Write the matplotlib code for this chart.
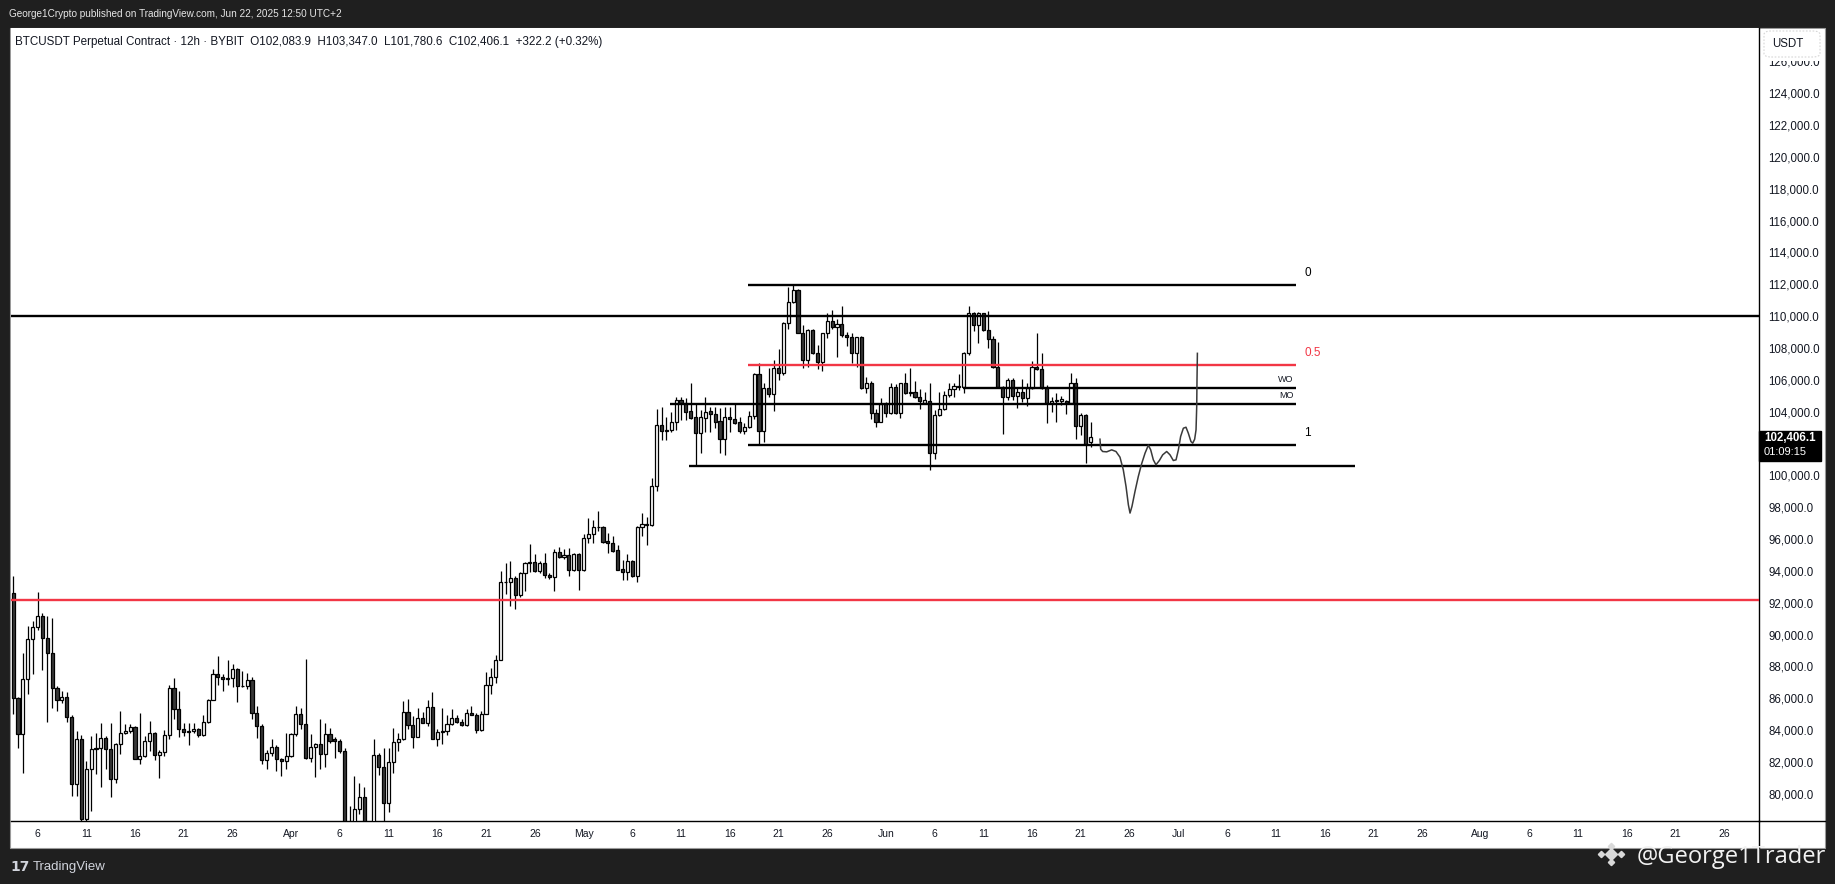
import matplotlib
matplotlib.use('Agg')
import matplotlib.pyplot as plt
import matplotlib.dates as mdates
from matplotlib.patches import Rectangle, FancyBboxPatch
from matplotlib.lines import Line2D
import numpy as np
import pandas as pd

# ---------------- DATA ----------------
first_candle = '2025-03-03 12:00'   # 12h candles
opens = [
    92610, 86030, 83770, 87180, 89690, 90480, 91150, 89790, 88850, 86660,
    85860, 86090, 84840, 80590, 83420, 78440, 81580, 82790, 82890, 83520,
    82830, 80950, 83100, 83830, 83960, 84210, 82200, 82370, 83310, 83830,
    82460, 82620, 83710, 86660, 85340, 84090, 83900, 83960, 84090, 83710,
    84500, 85880, 87530, 87350, 87220, 87280, 87810, 86760, 86780, 87120,
    85090, 84250, 82120, 82540, 82960, 82200, 82060, 82370, 83770, 85030,
    84400, 82270, 82960, 83100, 82520, 83770, 83410, 83330, 82700, 77800,
    77600, 79030, 79820, 76300, 76500, 82430, 81700, 79440, 82020, 83270,
    83420, 85150, 84340, 83580, 84770, 84460, 85460, 83460, 83900, 83920,
    84400, 84770, 84520, 84310, 85090, 84960, 83980, 85020, 86860, 87320,
    88430, 93280, 93300, 93550, 92470, 93870, 94490, 94530, 93970, 94490,
    93720, 93610, 95180, 94870, 95010, 94070, 95080, 94030, 96060, 96310,
    96740, 96770, 95850, 95750, 95300, 94140, 93910, 94640, 93660, 96730,
    96940, 96900, 99340, 103170, 102810, 102830, 103330, 104730, 104520, 104060,
    103690, 102640, 103580, 104040, 103860, 103420, 102270, 103690, 103540, 103330,
    102810, 103020, 103730, 106340, 102810, 105460, 105090, 106720, 106410, 109540,
    110860, 111630, 108960, 107240, 109120, 107660, 107140, 108910, 109690, 109290,
    109480, 108810, 108700, 107660, 108660, 105460, 105780, 103900, 103370, 104460,
    103940, 105530, 103900, 105780, 105150, 105260, 104940, 104570, 104690, 101390,
    103790, 104150, 105050, 105420, 105530, 105530, 107660, 110170, 109440, 110170,
    109120, 108540, 106780, 105530, 104900, 105990, 104980, 105260, 104840, 105460,
    106780, 106660, 105460, 104520, 104690, 104670, 104670, 104570, 105820, 103120,
    103790, 102084,
]
highs = [
    93660, 86100, 88850, 90560, 90880, 92700, 91360, 91190, 91040, 86760,
    86430, 86380, 84920, 83940, 83670, 82060, 83630, 83830, 84420, 83630,
    84460, 83210, 85210, 84360, 84360, 84250, 85050, 83630, 84570, 83880,
    82750, 83980, 86860, 87280, 86450, 84460, 84420, 84420, 84150, 84940,
    85970, 87850, 88680, 87550, 88430, 88180, 87890, 87700, 87600, 87350,
    85510, 84360, 82750, 83420, 83040, 82270, 83790, 83830, 85510, 85400,
    88470, 83770, 83210, 84670, 84460, 84150, 83580, 83460, 82890, 79240,
    81120, 80700, 80450, 77900, 83460, 82580, 82890, 82890, 84150, 83830,
    85820, 85970, 84880, 85400, 85130, 85920, 86380, 84040, 85400, 84920,
    85300, 84920, 84670, 85300, 85510, 85090, 85170, 87640, 87910, 88740,
    93970, 94490, 94640, 93660, 93910, 94530, 95680, 95080, 94600, 95120,
    93870, 95370, 95470, 95390, 95430, 95120, 95120, 96310, 97310, 97210,
    97770, 96790, 96370, 96160, 95640, 94700, 95060, 94700, 96790, 97630,
    97380, 99820, 104150, 104270, 103690, 104000, 104940, 104940, 104840, 105780,
    104480, 104110, 104940, 104320, 104320, 104210, 104320, 104320, 104460, 103690,
    103270, 104060, 106410, 107030, 105780, 106720, 107240, 107930, 109640, 111840,
    111940, 111730, 109440, 109160, 109160, 108180, 108960, 110210, 110380, 109790,
    110630, 109020, 108910, 108700, 108750, 106200, 105920, 104150, 104840, 104630,
    105780, 105740, 105820, 106410, 106720, 105920, 105420, 105260, 105780, 104110,
    105260, 105320, 105780, 105820, 106360, 107760, 110630, 110270, 110270, 110210,
    110310, 108750, 108390, 105610, 106090, 106090, 105570, 106030, 105780, 107200,
    108960, 107660, 105670, 104940, 105150, 104980, 104730, 106410, 106090, 103900,
    103830, 103347,
]
lows = [
    84980, 82890, 81330, 86280, 87530, 90300, 87800, 84500, 85400, 85190,
    85720, 84500, 79860, 79860, 76800, 77500, 78920, 81220, 80450, 81540,
    79800, 80700, 82480, 83730, 83830, 82160, 81850, 82300, 82680, 82120,
    81010, 82370, 83460, 84670, 83560, 83630, 83060, 83830, 83580, 83630,
    84460, 85880, 86860, 86450, 86860, 86720, 85760, 86720, 86550, 84710,
    83520, 81850, 81540, 82370, 81430, 81120, 81540, 82330, 83630, 84090,
    82160, 82020, 81070, 81580, 81680, 83210, 82270, 82580, 77300, 74600,
    77000, 78710, 76000, 74600, 76300, 81160, 78300, 78860, 81280, 82680,
    83400, 84040, 82890, 83560, 84440, 84250, 83440, 83000, 83100, 83670,
    84290, 84420, 84250, 84250, 84920, 83830, 83940, 85000, 86240, 86970,
    88390, 92550, 91820, 91610, 92340, 92720, 93910, 93910, 93870, 93550,
    93490, 92720, 94810, 94740, 93700, 94010, 92820, 94000, 95750, 95750,
    96520, 95750, 95120, 95160, 94030, 93400, 93450, 93610, 93280, 96160,
    95640, 96790, 98990, 102230, 102230, 102750, 102850, 103480, 103480, 103540,
    100660, 101390, 102690, 102750, 102960, 101430, 101280, 102750, 103230, 102640,
    102600, 102980, 103520, 101970, 102060, 104900, 104040, 105990, 106300, 109160,
    110790, 108910, 106720, 106820, 107620, 106660, 106570, 108600, 109160, 107410,
    108700, 108120, 107030, 106820, 105400, 105190, 103540, 103020, 103350, 103690,
    103860, 103860, 103580, 105110, 104980, 104840, 104150, 104520, 100340, 101010,
    103730, 104110, 104940, 104900, 105360, 105190, 107550, 109080, 108290, 109080,
    107970, 106720, 105500, 102580, 104730, 104730, 104210, 104630, 104360, 105400,
    106610, 105400, 103270, 104000, 103370, 104420, 103860, 104480, 102270, 102540,
    100760, 101781,
]
closes = [
    86030, 83770, 87180, 89690, 90480, 91150, 89790, 88850, 86660, 85860,
    86090, 84840, 80590, 83420, 78440, 81580, 82790, 82890, 83520, 82830,
    80950, 83100, 83830, 83960, 84210, 82200, 82370, 83310, 83830, 82460,
    82620, 83710, 86660, 85340, 84090, 83900, 83960, 84090, 83710, 84500,
    85880, 87530, 87350, 87220, 87280, 87810, 86760, 86780, 87120, 85090,
    84250, 82120, 82540, 82960, 82200, 82060, 82370, 83770, 85030, 84400,
    82270, 82960, 83100, 82520, 83770, 83310, 83330, 82700, 77800, 77600,
    79030, 79820, 76300, 76500, 82430, 81700, 79440, 82020, 83270, 83420,
    85150, 84340, 83580, 84770, 84460, 85460, 83460, 83900, 83920, 84400,
    84770, 84520, 84310, 85090, 84960, 83980, 85020, 86860, 87320, 88430,
    93280, 93300, 93550, 92470, 93870, 94490, 94530, 93970, 94490, 93720,
    93610, 95180, 94870, 95010, 94070, 95080, 94030, 96060, 96310, 96740,
    96770, 95790, 95750, 95220, 94070, 93910, 94640, 93660, 96730, 96940,
    96900, 99340, 103170, 102810, 102830, 103330, 104730, 104520, 104000, 103580,
    102640, 103630, 104000, 103860, 103370, 102270, 103690, 103540, 103310, 102810,
    103020, 103730, 106340, 102810, 105460, 105090, 106720, 106410, 109540, 110860,
    111630, 108960, 107240, 109120, 107660, 107140, 108910, 109690, 109290, 109480,
    108810, 108700, 107660, 108660, 105460, 105780, 103900, 103370, 104460, 103940,
    105530, 103900, 105780, 105150, 105260, 104940, 104690, 104730, 101390, 103790,
    104150, 105050, 105420, 105610, 105630, 107660, 110170, 109440, 110170, 109120,
    108540, 106780, 105530, 104900, 105990, 104980, 105260, 104840, 105460, 106780,
    106660, 105460, 104520, 104690, 104730, 104780, 104570, 105820, 103120, 103790,
    101970, 102406.1,
]

# horizontal drawings (price levels)
level_black_full = 110000
level_red_full = 92150
fib_labels = ['0', '0.5', '1']
fib_levels = [111950, 106930, 101930]
fib_start, fib_end = '2025-05-17 20:00', '2025-07-13 02:00'
wo_level, wo_start = 105510, '2025-06-08 23:00'
mo_level, mo_start = 104500, '2025-05-09 21:00'
low_level, low_start, low_end = 100600, '2025-05-11 20:00', '2025-07-19 02:00'

# hand-drawn projection path (days after 2025-03-06, price)
curve_base = '2025-03-06'
curve_days = [108.97, 109.04, 109.24, 109.66, 110.17, 110.61, 111.02, 111.36, 111.64,
              111.88, 112.05, 112.25, 112.56, 112.90, 113.24, 113.59, 113.93, 114.17,
              114.44, 114.71, 115.06, 115.40, 115.81, 116.15, 116.49, 116.77, 117.01,
              117.24, 117.52, 117.79, 118.03, 118.30, 118.48, 118.68, 118.82, 118.89,
              118.92, 118.96]
curve_prices = [102267, 101640, 101494, 101473, 101598, 101494, 101138, 100344, 99299,
                98150, 97627, 98045, 98986, 99926, 100720, 101389, 101891, 101598,
                100971, 100658, 100929, 101285, 101494, 101285, 100929, 100971, 101598,
                102434, 102957, 103019, 102643, 102120, 102016, 102267, 102852, 104315,
                105987, 107659]

price_ticks = [v for v in range(80000, 126001, 2000) if v != 102000]
month_names = ['Mar', 'Apr', 'May', 'Jun', 'Jul', 'Aug']
tick_days = [1, 6, 11, 16, 21, 26]
last_price_text = '102,406.1'
countdown_text = '01:09:15'

# ---------------- FIGURE ----------------
W, H, DPI = 1835, 884, 100
plt.rcParams['font.family'] = ['Liberation Sans', 'DejaVu Sans']
BG = '#1f1f1f'
RED = '#f23645'
TXT = '#131722'

fig = plt.figure(figsize=(W / DPI, H / DPI), dpi=DPI, facecolor=BG)

def fx(px):
    return px / W

def fy(py):
    return 1 - py / H

# white panel (behind the axes)
fig.patches.append(Rectangle((fx(10), fy(848)), fx(1825) - fx(10), fy(28) - fy(848),
                             transform=fig.transFigure, facecolor='white',
                             edgecolor='#9a9a9a', lw=0.8, zorder=-10))

ax = fig.add_axes([fx(11), fy(821), fx(1759) - fx(11), fy(28) - fy(821)])
ax.set_facecolor('white')
ax.set_zorder(1)

times = pd.date_range(first_candle, periods=len(opens), freq='12h')
x = mdates.date2num(times)
o = np.array(opens, float)
h = np.array(highs, float)
l = np.array(lows, float)
c = np.array(closes, float)
up = c >= o
body_bottom = np.minimum(o, c)
body_h = np.abs(c - o)

ax.vlines(x, l, h, color='black', lw=0.9, zorder=2)
bw = 0.32
ax.bar(x[up], body_h[up], bottom=body_bottom[up], width=bw, color='white',
       edgecolor='black', lw=0.9, zorder=3)
ax.bar(x[~up], body_h[~up], bottom=body_bottom[~up], width=bw, color='#383838',
       edgecolor='black', lw=0.9, zorder=3)

# full-width levels
ax.axhline(level_black_full, color='black', lw=1.7, zorder=4)
ax.axhline(level_red_full, color=RED, lw=1.7, zorder=4)

d = lambda s: mdates.date2num(pd.Timestamp(s))
fs, fe = d(fib_start), d(fib_end)
for lab, lev in zip(fib_labels, fib_levels):
    col = RED if lab == '0.5' else 'black'
    ax.hlines(lev, fs, fe, color=col, lw=1.7, zorder=4)
    ax.annotate(lab, xy=(fe, lev), xytext=(6, 8.5), textcoords='offset points',
                color=col, fontsize=8.5, ha='left', va='center', zorder=6)

ax.hlines(wo_level, d(wo_start), fe, color='black', lw=1.7, zorder=4)
ax.hlines(mo_level, d(mo_start), fe, color='black', lw=1.7, zorder=4)
ax.annotate('WO', xy=(fe, wo_level), xytext=(-2, 5.8), textcoords='offset points',
            fontsize=6.5, ha='right', va='center', color=TXT, zorder=6)
ax.annotate('MO', xy=(fe, mo_level), xytext=(-2, 5.8), textcoords='offset points',
            fontsize=6.5, ha='right', va='center', color=TXT, zorder=6)
ax.hlines(low_level, d(low_start), d(low_end), color='black', lw=1.7, zorder=4)

cb = d(curve_base)
ax.plot(cb + np.array(curve_days), curve_prices, color='#3a3a3a', lw=1.1, zorder=5)

# axes limits and ticks
base = d('2025-03-06')
x_lo, x_hi = base - 2.72, base + 176.56
y_lo, y_hi = 78290, 128090

xt, xl = [], []
for mi, mn in enumerate(month_names):
    for dd in tick_days:
        t = mdates.date2num(pd.Timestamp(2025, 3 + mi, dd))
        if x_lo <= t <= x_hi:
            xt.append(t)
            xl.append(mn if dd == 1 else str(dd))
ax.set_xticks(xt)
ax.set_xticklabels(xl)
ax.tick_params(axis='x', length=0, pad=5.5, labelsize=7.5, labelcolor=TXT)

ax.yaxis.tick_right()
ax.set_yticks(price_ticks)
ax.set_yticklabels([f'{v:,.1f}' for v in price_ticks])
ax.tick_params(axis='y', length=0, pad=6.5, labelsize=8.3, labelcolor=TXT)

ax.set_xlim(x_lo, x_hi)
ax.set_ylim(y_lo, y_hi)

for s in ['left', 'top']:
    ax.spines[s].set_visible(False)
for s in ['bottom', 'right']:
    ax.spines[s].set_color('black')
    ax.spines[s].set_linewidth(1.0)

# axis extensions
fig.add_artist(Line2D([fx(1759), fx(1825)], [fy(821), fy(821)], color='black', lw=1.0,
                      transform=fig.transFigure))
fig.add_artist(Line2D([fx(1759), fx(1759)], [fy(821), fy(848)], color='black', lw=1.0,
                      transform=fig.transFigure))

# USDT box (covers upper half of the top price label)
fig.patches.append(Rectangle((fx(1761), fy(61)), fx(1824) - fx(1761), fy(29) - fy(61),
                             transform=fig.transFigure, facecolor='white',
                             edgecolor='none', zorder=9))
fig.patches.append(FancyBboxPatch((fx(1764), fy(57)), fx(1820) - fx(1764), fy(31) - fy(57),
                                  boxstyle='round,pad=0,rounding_size=0.004',
                                  transform=fig.transFigure, facecolor='white',
                                  edgecolor='#d6d6d6', lw=0.8, linestyle=(0, (1.5, 1.5)),
                                  zorder=10))
fig.text(fx(1772), fy(44), 'USDT', fontsize=8.3, color=TXT, va='center', ha='left', zorder=11)

# last price box
fig.patches.append(Rectangle((fx(1759), fy(461)), fx(1821) - fx(1759), fy(431) - fy(461),
                             transform=fig.transFigure, facecolor='black',
                             edgecolor='black', zorder=10))
fig.text(fx(1764), fy(438), last_price_text, fontsize=8.3, color='white',
         fontweight='bold', va='center', ha='left', zorder=11)
fig.text(fx(1764), fy(452), countdown_text, fontsize=8, color='white',
         va='center', ha='left', zorder=11)

# header texts
fig.text(fx(9), fy(14), 'George1Crypto published on TradingView.com, Jun 22, 2025 12:50 UTC+2',
         fontsize=7.2, color='#e6e6e6', va='center', ha='left')
fig.text(fx(15), fy(42),
         'BTCUSDT Perpetual Contract \u00b7 12h \u00b7 BYBIT  O102,083.9  H103,347.0  '
         'L101,780.6  C102,406.1  +322.2 (+0.32%)',
         fontsize=8.4, color=TXT, va='center', ha='left', zorder=12)

# footer
fig.text(fx(10), fy(867), '17', fontsize=10, fontweight='bold', color='#d1d4dc',
         va='center', ha='left', family='DejaVu Sans')
fig.text(fx(33), fy(867), 'TradingView', fontsize=9.5, color='#d1d4dc',
         va='center', ha='left')

# watermark logo (diamonds)
logo_c = (1611, 854)
for dx, dy, ms in [(0, 0, 6), (-10, 0, 3.2), (10, 0, 3.2), (0, -8, 3.2), (0, 8, 3.2)]:
    fig.add_artist(Line2D([fx(logo_c[0] + dx)], [fy(logo_c[1] + dy)], marker='D',
                          markersize=ms, color='#d9d9d9', lw=0,
                          transform=fig.transFigure))
fig.text(fx(1826), fy(857), '@George1Trader', fontsize=17, color='#f2f2f2',
         va='center', ha='right', family=['Open Sans', 'DejaVu Sans'], zorder=12)

fig.savefig('out.png', dpi=DPI, facecolor=BG)
